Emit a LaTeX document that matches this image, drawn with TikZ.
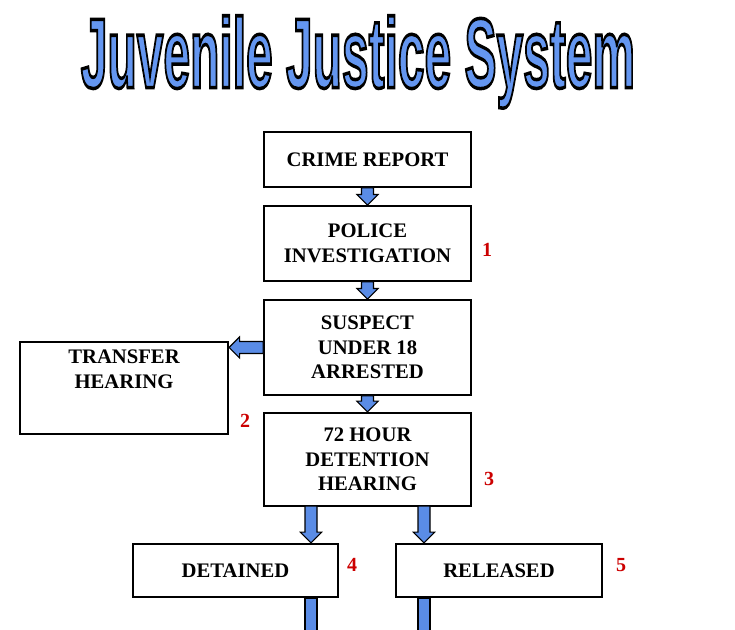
\documentclass[tikz,border=0pt]{standalone}
\usepackage{fontspec}
\setmainfont{Liberation Serif}
\newfontfamily\titlefont{Liberation Sans}
\usetikzlibrary{calc}
\definecolor{arrowblue}{RGB}{90,140,230}
\definecolor{titleblue}{RGB}{100,150,240}
\tikzset{
  stepbox/.style={draw, line width=1.5pt, minimum width=155pt, align=center, font=\bfseries\fontsize{15.5}{18.5}\selectfont},
  num/.style={text=red!80!black, font=\bfseries\fontsize{15}{16}\selectfont},
  blk/.style={draw=black, line width=0.8pt, fill=arrowblue},
}
\newcommand\downblk[2]{%
  \draw[blk] let \p1=(#1), \p2=(#2) in
    (\x1-4.5pt,\y1) -- (\x1+4.5pt,\y1) -- (\x1+4.5pt,\y2+8pt) -- (\x1+8pt,\y2+8pt)
    -- (\x1,\y2) -- (\x1-8pt,\y2+8pt) -- (\x1-4.5pt,\y2+8pt) -- cycle;}
\begin{document}
\begin{tikzpicture}[x=0.75pt,y=-0.75pt]
\useasboundingbox (0,0) rectangle (735,630);
% title
\node (title) at (358,62) {\titlefont\bfseries\fontsize{62}{62}\selectfont
  \color{titleblue}\special{pdf:code 2 Tr 2.2 w 0 0 0 RG}\scalebox{0.58}[1.2]{Juvenile Justice System}\special{pdf:code 0 Tr}};
% boxes
\node[stepbox, minimum height=41pt] (report) at (367.5,159.5) {CRIME REPORT};
\node[stepbox, minimum height=56pt] (police) at (367.5,243.5) {POLICE\\INVESTIGATION};
\node[stepbox, minimum height=71pt] (suspect) at (367.5,347.5) {SUSPECT\\UNDER 18\\ARRESTED};
\node[stepbox, minimum height=69pt, minimum width=156pt, anchor=north] (transfer) at (124,341) {TRANSFER\\HEARING\\[10pt]};
\node[stepbox, minimum height=70pt] (hearing) at (367.5,459.5) {72 HOUR\\DETENTION\\HEARING};
\node[stepbox, minimum height=40pt, minimum width=154pt] (detained) at (235.5,570.5) {DETAINED};
\node[stepbox, minimum height=40pt, minimum width=154pt] (released) at (499,570.5) {RELEASED};
% numbers
\node[num] (n1) at (487,250) {1};
\node[num] (n2) at (245,421) {2};
\node[num] (n3) at (489,479) {3};
\node[num] (n4) at (352,565) {4};
\node[num] (n5) at (621,565) {5};
% arrows
\downblk{report.south}{police.north}
\downblk{police.south}{suspect.north}
\downblk{suspect.south}{hearing.north}
\coordinate (dt) at (311,506);
\coordinate (rt) at (424,506);
\downblk{dt}{detained.north-|dt}
\downblk{rt}{released.north-|rt}
\draw[blk] let \p1=(suspect.west), \p2=(transfer.east) in
  (\x1,\y1+4.5pt) -- (\x1,\y1-4.5pt) -- (\x2+8pt,\y1-4.5pt) -- (\x2+8pt,\y1-8pt)
  -- (\x2,\y1) -- (\x2+8pt,\y1+8pt) -- (\x2+8pt,\y1+4.5pt) -- cycle;
\coordinate (db) at (311,632);
\coordinate (rb) at (424,632);
\draw[blk] let \p1=(detained.south-|db), \p2=(db) in (\x1-4.5pt,\y1) rectangle (\x2+4.5pt,\y2);
\draw[blk] let \p1=(released.south-|rb), \p2=(rb) in (\x1-4.5pt,\y1) rectangle (\x2+4.5pt,\y2);
\end{tikzpicture}
\end{document}
